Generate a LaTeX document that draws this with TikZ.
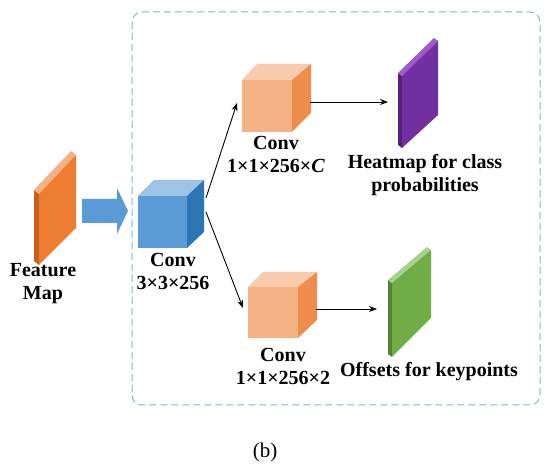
\documentclass[tikz,border=0pt]{standalone}
\usepackage{fontspec}
\setmainfont{Liberation Serif}
\usetikzlibrary{arrows.meta}
\definecolor{boxblue}{HTML}{7FB2E5}
\definecolor{fmfront}{HTML}{ED7D31}
\definecolor{fmside}{HTML}{C8601C}
\definecolor{fmtop}{HTML}{F4B183}
\definecolor{arrblue}{HTML}{5B9BD5}
\definecolor{bcfront}{HTML}{5B9BD5}
\definecolor{bctop}{HTML}{9DC3E6}
\definecolor{bcside}{HTML}{2E75B6}
\definecolor{ocfront}{HTML}{F4B183}
\definecolor{octop}{HTML}{F8CBAD}
\definecolor{ocside}{HTML}{EF8D4C}
\definecolor{pufront}{HTML}{7030A0}
\definecolor{puside}{HTML}{55207D}
\definecolor{putop}{HTML}{9A5BCB}
\definecolor{grfront}{HTML}{70AD47}
\definecolor{grside}{HTML}{548235}
\definecolor{grtop}{HTML}{A9D18E}
\tikzset{
  lbl/.style={font=\bfseries\fontsize{20}{23}\selectfont, align=center, inner sep=0pt},
  conn/.style={draw=black, line width=0.9pt, -{Stealth[length=8pt,width=6pt]}},
}
\begin{document}
\begin{tikzpicture}[x=1pt,y=-1pt]
\useasboundingbox (0,0) rectangle (550,470);
\fill[white] (0,0) rectangle (550,470);
% dashed frame
\draw[boxblue, line width=1pt, dash pattern=on 7pt off 4pt, rounded corners=10pt] (132,12) rectangle (540,405);

% feature map plane
\fill[fmside] (34,190) -- (39,194) -- (39,265) -- (34,261) -- cycle;
\fill[fmtop] (34,190) -- (71,151) -- (76,155) -- (39,194) -- cycle;
\fill[fmfront] (39,194) -- (76,155) -- (76,228) -- (39,265) -- cycle;
\node[lbl] (fmlbl) at (43,284) {Feature\\Map};

% block arrow
\fill[arrblue] (82,199) -- (117,199) -- (117,188) -- (128,211) -- (117,234) -- (117,223) -- (82,223) -- cycle;

% blue cube
\fill[bctop] (138,196) -- (154,180) -- (204,180) -- (187,196) -- cycle;
\fill[bcside] (187,196) -- (204,180) -- (204,232) -- (187,248) -- cycle;
\fill[bcfront] (138,196) rectangle (187,248);
\coordinate (bcout1) at (206,198);
\coordinate (bcout2) at (206,212);
\node[lbl] (bclbl) at (173,271) {Conv\\3×3×256};

% orange cube 1
\fill[octop] (242,80) -- (257,64) -- (311,64) -- (292,80) -- cycle;
\fill[ocside] (292,80) -- (311,64) -- (311,113) -- (292,132) -- cycle;
\fill[ocfront] (242,80) rectangle (292,132);
\coordinate (oc1in) at (237,103);
\coordinate (oc1out) at (310,102);
\node[lbl] (oc1lbl) at (276,154) {Conv\\1×1×256×\textit{C}};

% orange cube 2
\fill[octop] (248,287) -- (263,272) -- (317,272) -- (298,287) -- cycle;
\fill[ocside] (298,287) -- (317,272) -- (317,320) -- (298,338) -- cycle;
\fill[ocfront] (248,287) rectangle (298,338);
\coordinate (oc2in) at (243,308);
\coordinate (oc2out) at (316,309);
\node[lbl] (oc2lbl) at (283,366) {Conv\\1×1×256×2};

% purple plane
\fill[puside] (398,73) -- (402,76) -- (402,148) -- (398,145) -- cycle;
\fill[putop] (398,73) -- (434,38) -- (438,41) -- (402,76) -- cycle;
\fill[pufront] (402,76) -- (438,41) -- (438,115) -- (402,148) -- cycle;
\coordinate (puin) at (388,102);
\node[lbl] (pulbl) at (425,175) {Heatmap for class\\probabilities};

% green plane
\fill[grside] (388,280) -- (392,283) -- (392,357) -- (388,354) -- cycle;
\fill[grtop] (388,280) -- (427,247) -- (431,250) -- (392,283) -- cycle;
\fill[grfront] (392,283) -- (431,250) -- (431,318) -- (392,357) -- cycle;
\coordinate (grin) at (377,309);
\node[lbl] (grlbl) at (429,372) {Offsets for keypoints};

% connectors
\draw[conn] (bcout1) -- (oc1in);
\draw[conn] (bcout2) -- (oc2in);
\draw[conn] (oc1out) -- (puin);
\draw[conn] (oc2out) -- (grin);

\node[font=\fontsize{21}{21}\selectfont, inner sep=0pt] (cap) at (265,452) {(b)};
\end{tikzpicture}
\end{document}
